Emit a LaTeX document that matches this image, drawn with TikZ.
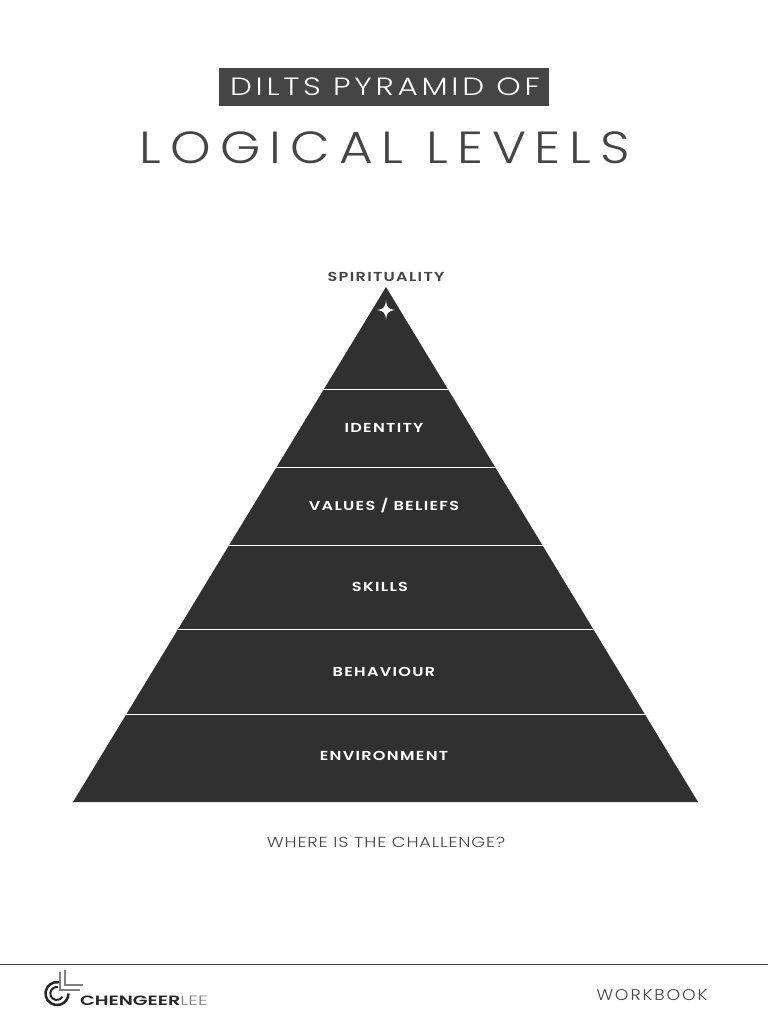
\documentclass[tikz,border=0pt]{standalone}
\usepackage{fontspec}
\setmainfont{Poppins}
\newfontfamily\thinfont[LetterSpace=15,FakeStretch=1.24]{Poppins Light}
\newfontfamily\widefont[LetterSpace=20,FakeStretch=1.145]{Poppins Light}
\newfontfamily\boldfont[LetterSpace=10,FakeStretch=1.24]{Poppins SemiBold}
\newfontfamily\plainfont[LetterSpace=6,FakeStretch=1.225]{Poppins Light}
\newfontfamily\bookfont[LetterSpace=12,FakeStretch=1.12]{Poppins Light}
\newfontfamily\logofont[FakeStretch=1.42]{Poppins SemiBold}
\newfontfamily\logolight[FakeStretch=1.42]{Poppins Light}
\definecolor{pyramidgrey}{HTML}{303030}
\definecolor{titlegrey}{HTML}{454545}
\tikzset{
  level/.style={text=white,font=\boldfont\fontsize{13}{13}\selectfont},
  caption/.style={text=titlegrey,font=\plainfont\fontsize{14.5}{14.5}\selectfont}
}

\begin{document}
\begin{tikzpicture}[x=1pt,y=-1pt]
    \useasboundingbox (0,0) rectangle (768,1024);
    \fill[white] (0,0) rectangle (768,1024);

    % title
    \fill[titlegrey] (219,68) rectangle (549,106);
    \node[text=white,font=\thinfont\fontsize{25}{25}\selectfont] (subtitle) at (385,87) {DILTS PYRAMID OF};
    \node[text=titlegrey,font=\widefont\fontsize{45}{45}\selectfont] (title) at (385,148) {LOGICAL LEVELS};

    % pyramid
    \fill[pyramidgrey] (386,287) -- (698,802) -- (73,802) -- cycle;
    \foreach \y/\l/\r in {389/323/448, 467/276/496, 545/229/543, 629/178/594, 714/126/646}
        \draw[white,line width=1pt] (\l,\y) -- (\r,\y);
    \fill[white] (386,300) .. controls (386.6,307) and (388,309) .. (395,310)
        .. controls (388,311) and (386.6,313) .. (386,320)
        .. controls (385.4,313) and (384,311) .. (377,310)
        .. controls (384,309) and (385.4,307) .. (386,300) -- cycle;

    \node[level,text=titlegrey] (spirituality) at (386,276.5) {SPIRITUALITY};
    \node[level] (identity) at (384,427.5) {IDENTITY};
    \node[level] (values) at (384,505.5) {VALUES / BELIEFS};
    \node[level] (skills) at (380,586.5) {SKILLS};
    \node[level] (behaviour) at (384,671.5) {BEHAVIOUR};
    \node[level] (environment) at (384,755.5) {ENVIRONMENT};

    \node[caption] (challenge) at (386,842) {WHERE IS THE CHALLENGE?};

    % footer
    \draw[titlegrey,line width=0.8pt] (0,964) -- (768,964);
    \node[text=titlegrey,font=\bookfont\fontsize{15.5}{15.5}\selectfont] (workbook) at (652,995) {WORKBOOK};

    % logo
    \draw[black!85,line width=2.5pt] (59,982.2) arc (-80:-360:11.5);
    \draw[black!85,line width=2pt] (58,987.1) arc (-80:-330:6.5);
    \draw[gray,line width=2pt] (60,972) -- (60,990) -- (80,990);
    \draw[gray,line width=2pt] (65,970) -- (65,985) -- (83,985);
    \node[anchor=west,inner sep=0pt,font=\fontsize{13.5}{13.5}\selectfont] (logo) at (80,1000.5)
        {\logofont\textcolor{black!85}{CHENGEER}\logolight\textcolor{gray}{LEE}};
\end{tikzpicture}
\end{document}
